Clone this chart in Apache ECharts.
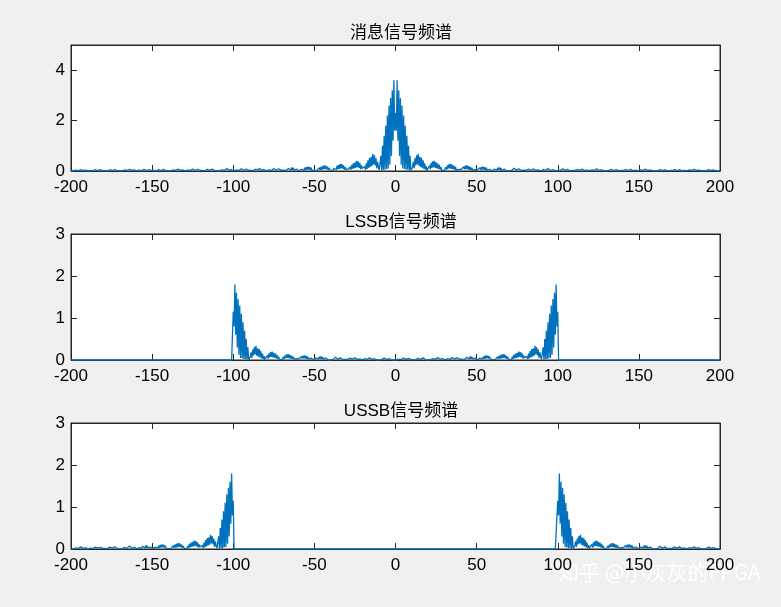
<!DOCTYPE html>
<html><head><meta charset="utf-8">
<script src="https://cdn.jsdelivr.net/npm/echarts@6/dist/echarts.min.js"></script>
<style>html,body{margin:0;padding:0;background:#f0f0f0}#c{width:781px;height:607px}</style>
</head><body><div id="c"></div>
<script>
// ---- data ----
const titles = ['消息信号频谱', 'LSSB信号频谱', 'USSB信号频谱'];
const xMin = -200, xMax = 200, xInterval = 50;
const yMaxes = [5, 3, 3];
const yIntervals = [2, 1, 1];
const freqStep = 0.5;      // sample spacing of spectrum (Hz)
const carrier = 100;       // carrier frequency
const ssbGain = 0.5;       // SSB amplitude relative to message
// message amplitude spectrum, f = 0, 0.5, 1, ... 200 (symmetric about 0)
const msgSpectrumHalf = [
  // 0 - 9.5 main lobe
  2.3,1.6,3.6,1.2,3.2,0.6,2.9,0.25,2.6,0.1,2.2,0.08,1.8,0.05,1.4,0.05,1.0,0.03,0.6,0.02,
  // 10 - 19.5
  0.04,0.15,0.36,0.1,0.5,0.22,0.62,0.26,0.68,0.2,0.56,0.16,0.52,0.12,0.42,0.08,0.3,0.05,0.18,0.03,
  // 20 - 29.5
  0.03,0.1,0.22,0.07,0.32,0.12,0.38,0.15,0.4,0.12,0.34,0.1,0.3,0.08,0.24,0.05,0.16,0.03,0.08,0.02,
  // 30 - 39.5
  0.02,0.07,0.15,0.05,0.22,0.09,0.27,0.1,0.28,0.08,0.24,0.07,0.21,0.05,0.16,0.04,0.11,0.02,0.06,0.01,
  // 40 - 49.5
  0.02,0.06,0.12,0.04,0.17,0.07,0.21,0.08,0.22,0.07,0.19,0.05,0.16,0.04,0.13,0.03,0.09,0.02,0.05,0.01,
  // 50 - 59.5
  0.01,0.05,0.09,0.03,0.13,0.05,0.16,0.06,0.17,0.05,0.15,0.04,0.13,0.03,0.1,0.02,0.07,0.01,0.04,0.01,
  // 60 - 69.5
  0.01,0.04,0.08,0.03,0.11,0.04,0.13,0.05,0.14,0.04,0.12,0.03,0.1,0.03,0.08,0.02,0.06,0.01,0.03,0.01,
  // 70 - 79.5
  0.01,0.03,0.07,0.02,0.09,0.04,0.11,0.04,0.12,0.04,0.1,0.03,0.09,0.02,0.07,0.02,0.05,0.01,0.03,0.01,
  // 80 - 89.5
  0.01,0.03,0.06,0.02,0.08,0.03,0.1,0.04,0.11,0.03,0.09,0.03,0.08,0.02,0.06,0.02,0.04,0.01,0.02,0.01,
  // 90 - 99.5
  0.01,0.03,0.06,0.02,0.08,0.03,0.09,0.03,0.1,0.03,0.09,0.02,0.07,0.02,0.06,0.01,0.04,0.01,0.02,0.01,
  // 100 - 109.5
  0.01,0.03,0.05,0.02,0.07,0.03,0.09,0.03,0.1,0.03,0.08,0.02,0.07,0.02,0.05,0.01,0.04,0.01,0.02,0.01,
  // 110 - 119.5
  0.01,0.02,0.05,0.02,0.07,0.03,0.08,0.03,0.09,0.03,0.08,0.02,0.07,0.02,0.05,0.01,0.03,0.01,0.02,0.01,
  // 120 - 129.5
  0.01,0.02,0.05,0.02,0.07,0.02,0.08,0.03,0.09,0.02,0.08,0.02,0.06,0.02,0.05,0.01,0.03,0.01,0.02,0.01,
  // 130 - 139.5
  0.01,0.02,0.04,0.02,0.06,0.02,0.07,0.03,0.08,0.02,0.07,0.02,0.06,0.01,0.04,0.01,0.03,0.01,0.02,0.01,
  // 140 - 149.5
  0.01,0.02,0.04,0.01,0.06,0.02,0.07,0.02,0.08,0.02,0.07,0.02,0.06,0.01,0.04,0.01,0.03,0.01,0.02,0.01,
  // 150 - 159.5
  0.01,0.02,0.04,0.02,0.05,0.02,0.07,0.02,0.08,0.02,0.07,0.02,0.05,0.01,0.04,0.01,0.03,0.01,0.01,0.01,
  // 160 - 169.5
  0.01,0.02,0.04,0.01,0.05,0.02,0.06,0.02,0.07,0.02,0.06,0.02,0.05,0.01,0.04,0.01,0.03,0.01,0.01,0.01,
  // 170 - 179.5
  0.01,0.02,0.03,0.01,0.05,0.02,0.06,0.02,0.07,0.02,0.06,0.01,0.05,0.01,0.04,0.01,0.02,0.01,0.01,0.01,
  // 180 - 189.5
  0.01,0.02,0.04,0.01,0.05,0.02,0.06,0.02,0.07,0.02,0.06,0.02,0.05,0.01,0.03,0.01,0.02,0.01,0.01,0.01,
  // 190 - 199.5
  0.01,0.02,0.03,0.01,0.05,0.02,0.06,0.02,0.06,0.02,0.05,0.01,0.04,0.01,0.03,0.01,0.02,0.01,0.01,0.01,
  // 200
  0.01
];

// ---- build series from data ----
const N = msgSpectrumHalf.length;
const freq = [];
for (let i = -(N - 1); i <= N - 1; i++) freq.push(i * freqStep);
const M = f => msgSpectrumHalf[Math.round(Math.abs(f) / freqStep)];
const msgData = freq.map(f => [f, M(f)]);
const lssbData = freq.map(f => [f, Math.abs(f) <= carrier ? ssbGain * M(carrier - Math.abs(f)) : 0]);
const ussbData = freq.map(f => [f, Math.abs(f) >= carrier ? ssbGain * M(Math.abs(f) - carrier) : 0]);
const seriesData = [msgData, lssbData, ussbData];

// ---- layout ----
const gridTops = [45, 234, 423];
const gridH = 126, gridLeft = 71, gridW = 649;
const titleTops = [20, 209, 398];
const axisColor = '#262626';
const latin = 'Arial, "Liberation Sans", "Noto Sans CJK SC", sans-serif';

const grid = [], xAxis = [], yAxis = [], series = [], title = [];
for (let i = 0; i < 3; i++) {
  grid.push({left: gridLeft, top: gridTops[i], width: gridW, height: gridH,
    show: true, backgroundColor: '#fff', borderColor: axisColor, borderWidth: 1});
  const xBase = {type: 'value', gridIndex: i, min: xMin, max: xMax, interval: xInterval,
    axisLine: {show: true, onZero: false, lineStyle: {color: axisColor, width: 1}},
    axisTick: {show: true, inside: true, length: 6, lineStyle: {color: axisColor}},
    splitLine: {show: false}};
  xAxis.push(Object.assign({}, xBase, {position: 'bottom',
    axisLabel: {show: true, fontSize: 17, color: '#000', fontFamily: latin, margin: 8}}));
  xAxis.push(Object.assign({}, xBase, {position: 'top', axisLabel: {show: false}}));
  const yBase = {type: 'value', gridIndex: i, min: 0, max: yMaxes[i], interval: yIntervals[i],
    axisLine: {show: true, onZero: false, lineStyle: {color: axisColor, width: 1}},
    axisTick: {show: true, inside: true, length: 6, lineStyle: {color: axisColor}},
    splitLine: {show: false}};
  yAxis.push(Object.assign({}, yBase, {position: 'left',
    axisLabel: {show: true, fontSize: 17, color: '#000', fontFamily: latin, margin: 6,
      showMaxLabel: i === 0 ? false : true}}));
  yAxis.push(Object.assign({}, yBase, {position: 'right', axisLabel: {show: false}}));
  series.push({type: 'line', xAxisIndex: 2 * i, yAxisIndex: 2 * i, data: seriesData[i],
    showSymbol: false, symbol: 'none', sampling: null, smooth: false,
    lineStyle: {color: '#0072BD', width: 1.3}, silent: true});
  title.push({text: titles[i], left: 396, top: titleTops[i], textAlign: 'center',
    textStyle: {fontSize: 17, fontWeight: 'normal', color: '#000', fontFamily: latin}});
}

const chart = echarts.init(document.getElementById('c'), null, {renderer: 'canvas'});
chart.setOption({
  backgroundColor: '#f0f0f0',
  animation: false,
  title, grid, xAxis, yAxis, series,
  graphic: [{type: 'text', left: 558, top: 562, silent: true,
    style: {text: '知乎 @小灰灰的FPGA', fill: '#fff', font: 'normal 21px "Noto Sans CJK SC"',
      shadowColor: 'rgba(0,0,0,0.6)', shadowBlur: 3, shadowOffsetX: 0.5, shadowOffsetY: 0.5}}]
});
</script></body></html>
